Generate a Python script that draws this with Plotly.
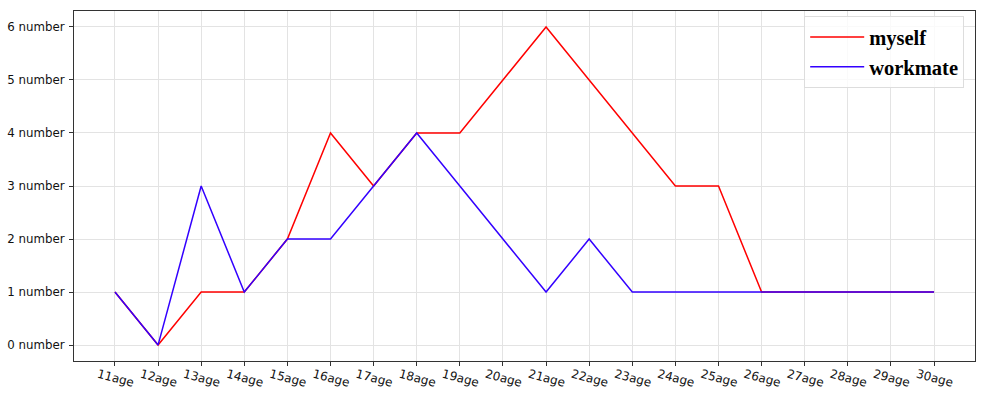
import plotly.graph_objects as go

ages = list(range(11, 31))
age_labels = [f"{a}age" for a in ages]
myself = [1, 0, 1, 1, 2, 4, 3, 4, 4, 5, 6, 5, 4, 3, 3, 1, 1, 1, 1, 1]
workmate = [1, 0, 3, 1, 2, 2, 3, 4, 3, 2, 1, 2, 1, 1, 1, 1, 1, 1, 1, 1]
y_vals = [0, 1, 2, 3, 4, 5, 6]
y_labels = [f"{v} number" for v in y_vals]

fig = go.Figure()
fig.add_trace(go.Scatter(x=ages, y=myself, mode="lines", name="myself",
                         line=dict(color="red", width=1.5)))
fig.add_trace(go.Scatter(x=ages, y=workmate, mode="lines", name="workmate",
                         line=dict(color="#3300ff", width=1.5)))

fig.update_layout(
    width=992, height=406,
    margin=dict(l=74, r=17, t=11, b=45, autoexpand=False),
    plot_bgcolor="white", paper_bgcolor="white",
    font=dict(family="DejaVu Sans", size=11.8, color="#111"),
    showlegend=True,
    legend=dict(x=0.988, y=0.985, xanchor="right", yanchor="top",
                font=dict(family="Liberation Serif", size=20.5, color="black", weight="bold"),
                bgcolor="rgba(255,255,255,0.8)", bordercolor="#dddddd", borderwidth=1,
                itemwidth=54, tracegroupgap=0),
)
fig.update_xaxes(range=[10.05, 30.95], tickvals=ages, ticktext=age_labels,
                 tickangle=15, showgrid=True, gridcolor="#e3e3e3", gridwidth=1,
                 showline=True, linecolor="#333", linewidth=1, mirror=True,
                 ticks="outside", ticklen=4, tickcolor="#333", zeroline=False,
                 automargin=False, ticklabelshift=-17, ticklabelstandoff=-3,
                 tickfont=dict(size=12))
fig.update_yaxes(range=[-0.3, 6.3], tickvals=y_vals, ticktext=y_labels,
                 showgrid=True, gridcolor="#e3e3e3", gridwidth=1,
                 showline=True, linecolor="#333", linewidth=1, mirror=True,
                 ticks="outside", ticklen=4, tickcolor="#333", zeroline=False,
                 automargin=False, ticklabelstandoff=2)

fig.write_html("out.html", config={"displayModeBar": False})

# remove default browser body margin so the figure sits at the page origin
with open("out.html", "r", encoding="utf-8") as f:
    html = f.read()
html = html.replace("<head>", "<head><style>html,body{margin:0;padding:0;overflow:hidden;}</style>", 1)
with open("out.html", "w", encoding="utf-8") as f:
    f.write(html)
